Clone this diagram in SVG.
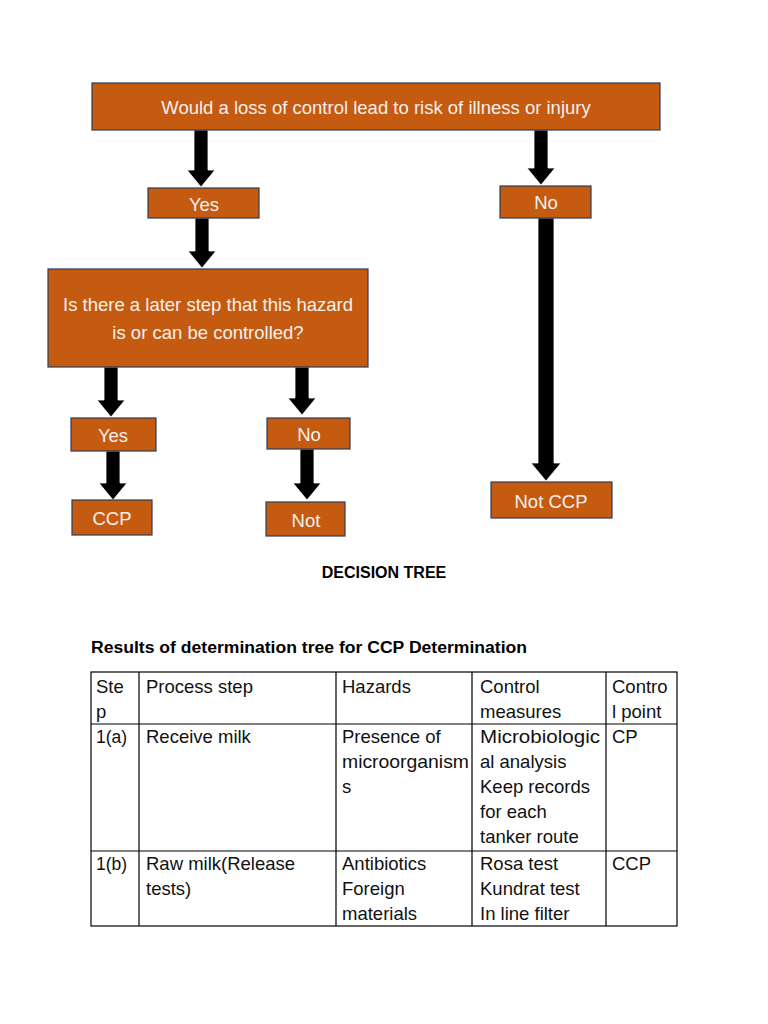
<svg xmlns="http://www.w3.org/2000/svg" width="768" height="1024" viewBox="0 0 768 1024">
<style>
.box{fill:#C55A11;stroke:#2F3B57;stroke-width:1.2}
.bt{font-family:"Liberation Sans",Arial,sans-serif;font-size:18.5px;fill:#F4F1EE;text-anchor:middle}
.arr{fill:#000;stroke:#fff;stroke-width:0.8}
.h{font-family:"Liberation Sans",Arial,sans-serif;font-weight:bold;font-size:16px;fill:#000}
.t{font-family:"Liberation Sans",Arial,sans-serif;font-size:18.5px;fill:#111}
.grid{stroke:#000;stroke-width:1.2;fill:none}
</style>
<rect width="768" height="1024" fill="#fff"/>
<g id="connectors">
<path class="arr" d="M194,130 H208 V170 H215 L201,187 L187,170 H194 Z"/>
<path class="arr" d="M195,218 H209 V251 H216 L202,268 L188,251 H195 Z"/>
<path class="arr" d="M534,130 H548 V168 H555 L541,185 L527,168 H534 Z"/>
<path class="arr" d="M538,218 H554 V463 H561 L546,481 L531,463 H538 Z"/>
<path class="arr" d="M104,367 H118 V400 H125 L111,417 L97,400 H104 Z"/>
<path class="arr" d="M106,451 H120 V483 H127 L113,500 L99,483 H106 Z"/>
<path class="arr" d="M295,367 H309 V398 H316 L302,415 L288,398 H295 Z"/>
<path class="arr" d="M300,449 H314 V483 H321 L307,500 L293,483 H300 Z"/>
</g>
<g id="q1"><rect class="box" x="92" y="83" width="568" height="47"/><text class="bt" x="376" y="114">Would a loss of control lead to risk of illness or injury</text></g>
<g id="yes1"><rect class="box" x="148" y="188" width="111" height="30"/><text class="bt" x="204" y="211">Yes</text></g>
<g id="no1"><rect class="box" x="500" y="186" width="91" height="32"/><text class="bt" x="546" y="209">No</text></g>
<g id="q2"><rect class="box" x="48" y="269" width="320" height="98"/><text class="bt" x="208" y="311">Is there a later step that this hazard</text><text class="bt" x="208" y="339">is or can be controlled?</text></g>
<g id="yes2"><rect class="box" x="71" y="418" width="85" height="33"/><text class="bt" x="113" y="442">Yes</text></g>
<g id="no2"><rect class="box" x="267" y="418" width="83" height="31"/><text class="bt" x="309" y="441">No</text></g>
<g id="ccp"><rect class="box" x="72" y="500" width="80" height="35"/><text class="bt" x="112" y="525">CCP</text></g>
<g id="not"><rect class="box" x="266" y="502" width="79" height="34"/><text class="bt" x="306" y="527">Not</text></g>
<g id="notccp"><rect class="box" x="491" y="482" width="121" height="36"/><text class="bt" x="551" y="508">Not CCP</text></g>
<text class="h" x="384" y="578" text-anchor="middle">DECISION TREE</text>
<text class="h" x="91" y="653" font-size="18" textLength="436" lengthAdjust="spacingAndGlyphs">Results of determination tree for CCP Determination</text>
<g id="table">
<rect class="grid" x="91" y="672" width="586" height="254"/>
<path class="grid" d="M139,672 V926 M336,672 V926 M472,672 V926 M606,672 V926 M91,724 H677 M91,851 H677"/>
<g class="t">
<text x="96" y="693">Ste</text><text x="96" y="718">p</text>
<text x="146" y="693">Process step</text>
<text x="342" y="693">Hazards</text>
<text x="480" y="693">Control</text><text x="480" y="718">measures</text>
<text x="612" y="693">Contro</text><text x="612" y="718">l point</text>
<text x="96" y="743" font-size="17.5">1(a)</text>
<text x="146" y="743">Receive milk</text>
<text x="342" y="743">Presence of</text><text x="342" y="768" textLength="127" lengthAdjust="spacingAndGlyphs">microorganism</text><text x="342" y="793">s</text>
<text x="480" y="743" textLength="120" lengthAdjust="spacingAndGlyphs">Microbiologic</text><text x="480" y="768">al analysis</text><text x="480" y="793">Keep records</text><text x="480" y="818">for each</text><text x="480" y="843">tanker route</text>
<text x="612" y="743">CP</text>
<text x="96" y="870" font-size="17.5">1(b)</text>
<text x="146" y="870">Raw milk(Release</text><text x="146" y="895">tests)</text>
<text x="342" y="870">Antibiotics</text><text x="342" y="895">Foreign</text><text x="342" y="920">materials</text>
<text x="480" y="870">Rosa test</text><text x="480" y="895">Kundrat test</text><text x="480" y="920">In line filter</text>
<text x="612" y="870">CCP</text>
</g>
</g>
</svg>
